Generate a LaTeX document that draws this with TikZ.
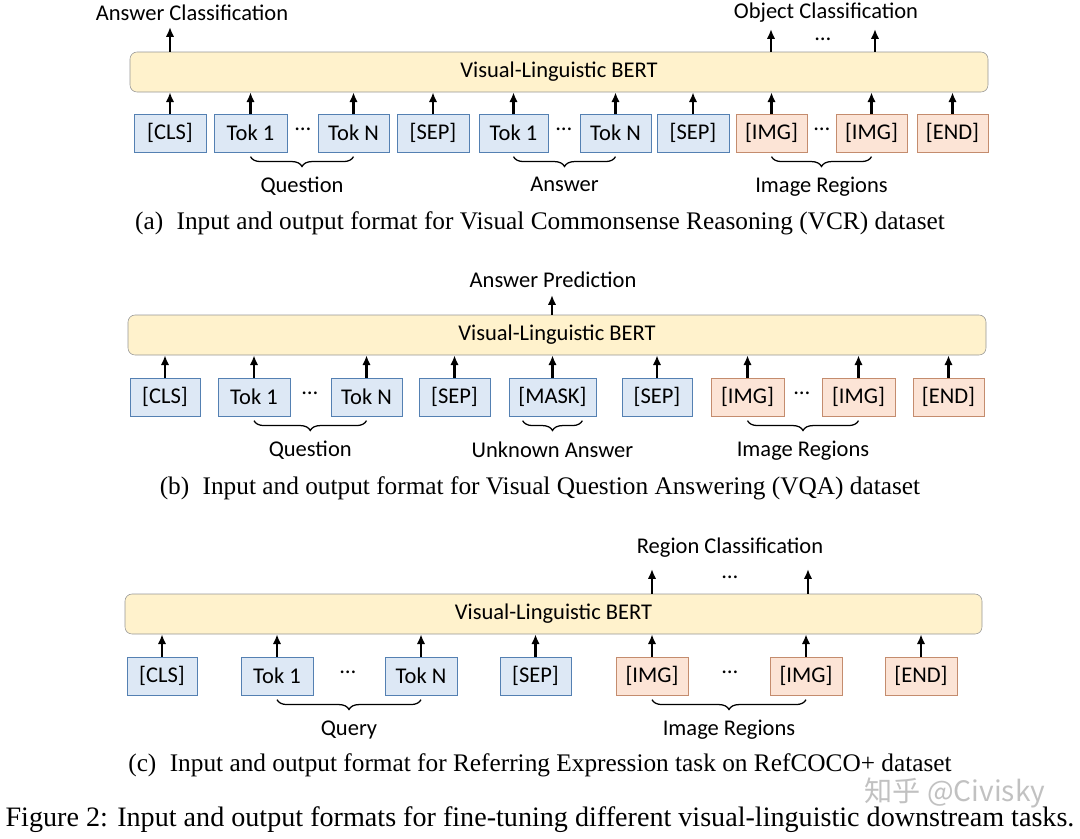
\documentclass[tikz,border=0pt]{standalone}
\usepackage{fontspec}
\setmainfont{Liberation Serif}
\newfontfamily\boxfont{Carlito}
\newfontfamily\cjk{Noto Sans CJK SC}
\usetikzlibrary{decorations.pathreplacing,arrows.meta}
\definecolor{tblue}{RGB}{221,232,245}
\definecolor{tblueline}{RGB}{84,128,178}
\definecolor{tpink}{RGB}{252,228,214}
\definecolor{tpinkline}{RGB}{196,140,110}
\definecolor{bertfill}{RGB}{255,242,204}
\definecolor{bertline}{RGB}{150,150,150}
\tikzset{
  tok/.style={draw=tblueline,fill=tblue,line width=0.6pt,minimum height=0.95cm,inner sep=0pt,font=\boxfont\fontsize{16}{18}\selectfont},
  img/.style={tok,draw=tpinkline,fill=tpink},
  bert/.style={draw=bertline,fill=bertfill,rounded corners=5pt,minimum height=1cm,inner sep=0pt,font=\boxfont\fontsize{16}{18}\selectfont},
  arr/.style={-{Latex[length=7pt,width=6pt]},line width=1.6pt},
  brc/.style={decorate,decoration={brace,amplitude=7pt},line width=0.9pt},
  lbl/.style={font=\boxfont\fontsize{16}{18}\selectfont},
  subcap/.style={font=\fontsize{18}{21}\selectfont}
}
\newcommand{\tbox}[6]{\node[#1,minimum width={(#4-#3)*0.025cm}] (#2) at ({(#3+#4)/2},#5) {#6};}
\begin{document}
\begin{tikzpicture}[x=0.025cm,y=-0.025cm]
\useasboundingbox (0,0) rectangle (1080,838);
% (a) VCR
\node[bert,minimum width={858*0.025cm}] (bertA) at (559,72) {Visual-Linguistic BERT};
\tbox{tok}{aCLS}{134}{206}{133}{[CLS]}
\tbox{tok}{aQ1}{214}{287}{133}{Tok 1}
\tbox{tok}{aQN}{318}{389}{133}{Tok N}
\tbox{tok}{aSEP1}{397}{469}{133}{[SEP]}
\tbox{tok}{aA1}{479}{548}{133}{Tok 1}
\tbox{tok}{aAN}{580}{651}{133}{Tok N}
\tbox{tok}{aSEP2}{657}{729}{133}{[SEP]}
\tbox{img}{aI1}{736}{807}{133}{[IMG]}
\tbox{img}{aIN}{836}{907}{133}{[IMG]}
\tbox{img}{aEND}{917}{988}{133}{[END]}
\node[lbl] (aD1) at (303,129) {…};
\node[lbl] (aD2) at (564,129) {…};
\node[lbl] (aD3) at (822,129) {…};
\foreach \n in {aCLS,aQ1,aQN,aSEP1,aA1,aAN,aSEP2,aI1,aIN,aEND}
  \draw[arr] (\n.north) -- (\n.north |- bertA.south);
\coordinate (aOut1) at (170,27);
\coordinate (aOut2) at (771,29);
\coordinate (aOut3) at (875,29);
\draw[arr] (aOut1 |- bertA.north) -- (aOut1);
\draw[arr] (aOut2 |- bertA.north) -- (aOut2);
\draw[arr] (aOut3 |- bertA.north) -- (aOut3);
\node[lbl] (aOutL1) at (192,13) {Answer Classification};
\node[lbl] (aOutL2) at (826,13) {Object Classification};
\node[lbl] (aOutD) at (823,39) {…};
\draw[brc] ([yshift=-3pt]aQN.south) -- ([yshift=-3pt]aQ1.south) node[midway,below=11pt,lbl] {Question};
\draw[brc] ([yshift=-3pt]aAN.south) -- ([yshift=-3pt]aA1.south) node[midway,below=11pt,lbl] {Answer};
\draw[brc] ([yshift=-3pt]aIN.south) -- ([yshift=-3pt]aI1.south) node[midway,below=11pt,lbl] {Image Regions};
\node[subcap] (capA) at (540,223) {(a)\; Input and output format for Visual Commonsense Reasoning (VCR) dataset};
% (b) VQA
\node[bert,minimum width={858*0.025cm}] (bertB) at (557,335) {Visual-Linguistic BERT};
\tbox{tok}{bCLS}{130}{200}{397}{[CLS]}
\tbox{tok}{bQ1}{218}{290}{397}{Tok 1}
\tbox{tok}{bQN}{331}{402}{397}{Tok N}
\tbox{tok}{bSEP1}{419}{490}{397}{[SEP]}
\tbox{tok}{bMASK}{509}{596}{397}{[MASK]}
\tbox{tok}{bSEP2}{622}{692}{397}{[SEP]}
\tbox{img}{bI1}{711}{784}{397}{[IMG]}
\tbox{img}{bIN}{822}{895}{397}{[IMG]}
\tbox{img}{bEND}{913}{984}{397}{[END]}
\node[lbl] (bD1) at (310,393) {…};
\node[lbl] (bD2) at (802,393) {…};
\foreach \n in {bCLS,bQ1,bQN,bSEP1,bMASK,bSEP2,bI1,bIN,bEND}
  \draw[arr] (\n.north) -- (\n.north |- bertB.south);
\coordinate (bOut) at (552,295);
\draw[arr] (bOut |- bertB.north) -- (bOut);
\node[lbl] (bOutL) at (553,280) {Answer Prediction};
\draw[brc] ([yshift=-3pt]bQN.south) -- ([yshift=-3pt]bQ1.south) node[midway,below=11pt,lbl] {Question};
\draw[brc] ([yshift=-3pt,xshift=-10pt]bMASK.south east) -- ([yshift=-3pt,xshift=10pt]bMASK.south west) node[midway,below=11pt,lbl] {Unknown Answer};
\draw[brc] ([yshift=-3pt]bIN.south) -- ([yshift=-3pt]bI1.south) node[midway,below=11pt,lbl] {Image Regions};
\node[subcap] (capB) at (540,488) {(b)\; Input and output format for Visual Question Answering (VQA) dataset};
% (c) RefCOCO+
\node[bert,minimum width={857*0.025cm}] (bertC) at (553.5,614) {Visual-Linguistic BERT};
\tbox{tok}{cCLS}{127}{197}{676}{[CLS]}
\tbox{tok}{cQ1}{241}{313}{676}{Tok 1}
\tbox{tok}{cQN}{385}{457}{676}{Tok N}
\tbox{tok}{cSEP}{500}{571}{676}{[SEP]}
\tbox{img}{cI1}{616}{688}{676}{[IMG]}
\tbox{img}{cIN}{770}{842}{676}{[IMG]}
\tbox{img}{cEND}{885}{957}{676}{[END]}
\node[lbl] (cD1) at (348,672) {…};
\node[lbl] (cD2) at (730,672) {…};
\foreach \n in {cCLS,cQ1,cQN,cSEP,cI1,cIN,cEND}
  \draw[arr] (\n.north) -- (\n.north |- bertC.south);
\coordinate (cOut1) at (652,569);
\coordinate (cOut2) at (808,569);
\draw[arr] (cOut1 |- bertC.north) -- (cOut1);
\draw[arr] (cOut2 |- bertC.north) -- (cOut2);
\node[lbl] (cOutL) at (730,548) {Region Classification};
\node[lbl] (cOutD) at (730,577) {…};
\draw[brc] ([yshift=-3pt]cQN.south) -- ([yshift=-3pt]cQ1.south) node[midway,below=11pt,lbl] {Query};
\draw[brc] ([yshift=-3pt]cIN.south) -- ([yshift=-3pt]cI1.south) node[midway,below=11pt,lbl] {Image Regions};
\node[subcap] (capC) at (540,765) {(c)\; Input and output format for Referring Expression task on RefCOCO+ dataset};
% figure caption
\node[font=\fontsize{20}{23}\selectfont] (figcap) at (540,820) {Figure 2: Input and output formats for fine-tuning different visual-linguistic downstream tasks.};
\node[font=\cjk\fontsize{20}{23}\selectfont,text=gray!60,opacity=0.8] (wm) at (955,793) {知乎 @Civisky};
\end{tikzpicture}
\end{document}
